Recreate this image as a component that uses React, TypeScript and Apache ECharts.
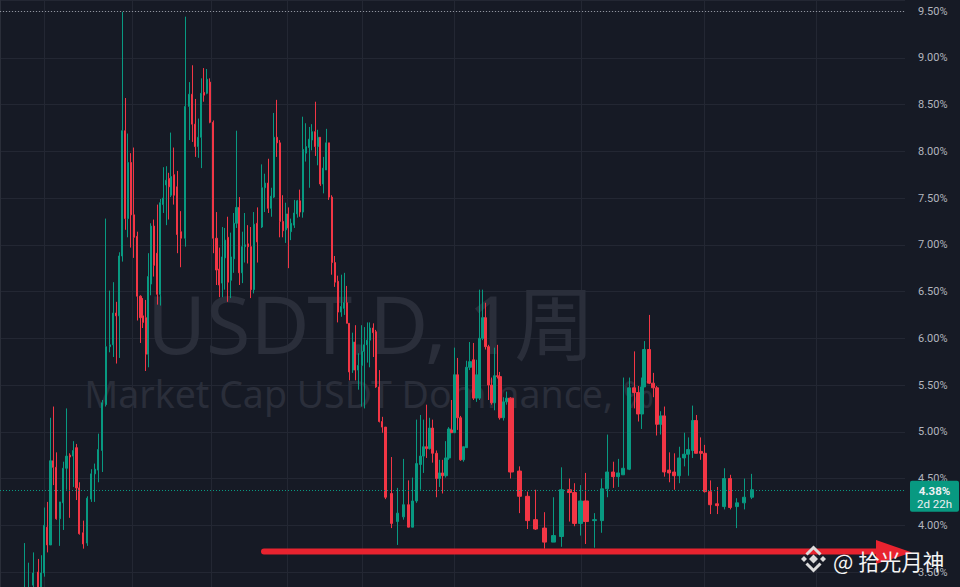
import React, { useEffect, useRef } from "react";
import * as echarts from "echarts";

// [week position, open, close, low, high] in % (USDT dominance, weekly)
const candles: number[][] = [
  [24.3, 3.26, 3.33, 3.15, 3.81],
  [28.3, 3.26, 3.32, 3.22, 3.6],
  [33.3, 3.36, 3.49, 3.31, 3.71],
  [38.3, 3.5, 3.31, 3.29, 3.64],
  [41.3, 3.34, 3.49, 3.32, 3.68],
  [44.3, 3.49, 4.0, 3.45, 4.19],
  [47.3, 3.98, 3.79, 3.71, 4.25],
  [50.5, 3.79, 4.69, 3.79, 5.15],
  [53.3, 4.69, 4.62, 4.43, 5.27],
  [56.3, 4.62, 4.07, 4.06, 4.78],
  [60, 4.07, 4.25, 3.78, 4.25],
  [63.3, 4.24, 4.61, 3.95, 4.68],
  [66.5, 4.61, 4.74, 4.38, 5.25],
  [70.2, 4.75, 4.73, 4.08, 4.77],
  [73.3, 4.74, 4.8, 4.41, 4.9],
  [76.5, 4.83, 4.4, 4.27, 4.87],
  [79.3, 4.4, 3.91, 3.9, 4.46],
  [83.3, 3.92, 3.8, 3.75, 4.05],
  [87.3, 3.81, 4.29, 3.78, 4.31],
  [91.3, 4.28, 4.55, 4.25, 4.6],
  [94.7, 4.55, 4.6, 4.25, 4.66],
  [98.3, 4.59, 4.81, 4.46, 4.98],
  [102.3, 4.8, 5.31, 4.57, 5.34],
  [106, 5.29, 5.91, 5.27, 7.28],
  [110, 5.91, 5.93, 5.85, 6.51],
  [113.3, 5.93, 6.27, 5.8, 6.6],
  [116.3, 6.27, 6.24, 5.73, 6.39],
  [119.3, 6.24, 6.88, 5.79, 6.92],
  [122.3, 6.88, 8.22, 6.82, 9.49],
  [125.3, 8.22, 7.28, 7.16, 8.57],
  [128, 7.28, 7.88, 7.08, 8.19],
  [130.7, 7.88, 7.32, 6.97, 7.98],
  [134, 7.32, 7.08, 6.86, 8.04],
  [137.3, 7.09, 6.45, 6.19, 7.14],
  [140.5, 6.45, 6.22, 5.95, 6.46],
  [143, 6.24, 6.17, 6.11, 6.43],
  [145.7, 6.22, 5.83, 5.65, 6.41],
  [148.3, 5.83, 6.66, 5.69, 6.91],
  [150.7, 6.58, 7.2, 6.46, 7.23],
  [154, 7.2, 6.78, 6.66, 7.27],
  [157.3, 6.91, 6.47, 6.36, 7.43],
  [160.3, 6.47, 7.45, 6.35, 7.49],
  [163.3, 7.43, 7.5, 7.34, 7.83],
  [166.3, 7.64, 7.69, 7.21, 7.84],
  [168.7, 7.71, 7.62, 7.27, 7.77],
  [171, 7.53, 7.73, 7.51, 8.2],
  [174, 7.75, 7.53, 7.43, 8.04],
  [177.3, 7.62, 7.11, 6.91, 7.79],
  [181, 7.14, 7.07, 6.76, 7.36],
  [185.3, 7.07, 8.48, 6.98, 9.44],
  [189.3, 8.48, 8.61, 8.12, 8.74],
  [192.3, 8.61, 8.29, 8.1, 8.92],
  [195.3, 8.29, 8.05, 7.94, 8.56],
  [198.3, 8.05, 8.15, 7.93, 8.35],
  [201.3, 8.15, 8.62, 7.82, 8.78],
  [204.2, 8.63, 8.6, 8.53, 8.89],
  [207.2, 8.62, 8.77, 8.61, 8.88],
  [210.2, 8.74, 8.31, 8.3, 8.78],
  [213.3, 8.31, 7.07, 6.91, 8.33],
  [216.5, 7.07, 6.73, 6.57, 7.35],
  [219.3, 6.74, 6.57, 6.44, 6.97],
  [222.3, 6.59, 6.87, 6.44, 7.19],
  [225.2, 6.86, 7.05, 6.52, 7.18],
  [228, 7.08, 6.6, 6.39, 7.3],
  [231, 6.62, 6.87, 6.43, 7.13],
  [233.8, 6.85, 7.23, 6.7, 7.34],
  [236.5, 7.23, 7.4, 7.18, 8.22],
  [239.3, 7.4, 6.7, 6.57, 7.51],
  [242.3, 6.7, 6.98, 6.59, 7.14],
  [245, 6.98, 7.0, 6.81, 7.34],
  [248, 7.01, 6.98, 6.8, 7.21],
  [251, 6.98, 6.52, 6.43, 7.19],
  [254, 6.52, 7.22, 6.48, 7.35],
  [257.3, 7.23, 7.03, 6.81, 7.4],
  [261.7, 7.19, 7.61, 7.18, 7.86],
  [265, 7.61, 7.66, 7.35, 7.76],
  [268.3, 7.66, 7.39, 7.34, 7.92],
  [271.3, 7.39, 7.52, 7.3, 7.61],
  [274, 7.51, 8.15, 7.5, 8.41],
  [277, 8.15, 8.09, 7.94, 8.55],
  [280, 8.09, 7.25, 7.08, 8.12],
  [283, 7.25, 7.15, 7.08, 7.53],
  [286, 7.16, 7.33, 7.02, 7.45],
  [288.3, 7.33, 7.18, 6.75, 7.4],
  [291, 7.14, 7.23, 7.05, 7.28],
  [294.3, 7.21, 7.34, 7.18, 7.48],
  [297.3, 7.33, 7.47, 7.29, 7.48],
  [300, 7.47, 7.35, 7.3, 7.59],
  [303, 7.35, 8.02, 7.29, 8.37],
  [306, 7.98, 8.05, 7.89, 8.3],
  [309.3, 8.04, 8.13, 7.61, 8.26],
  [312, 8.12, 8.21, 8.01, 8.29],
  [315.3, 8.21, 8.05, 7.95, 8.53],
  [317.7, 8.05, 8.15, 7.85, 8.23],
  [320.3, 8.15, 7.65, 7.63, 8.15],
  [323.3, 7.65, 7.82, 7.55, 7.94],
  [326.3, 7.8, 8.09, 7.8, 8.24],
  [329, 8.09, 7.51, 7.48, 8.09],
  [332, 7.51, 6.81, 6.68, 7.53],
  [335.2, 6.81, 6.6, 6.55, 6.88],
  [338.2, 6.61, 6.28, 6.17, 6.67],
  [341.3, 6.28, 6.34, 6.23, 6.68],
  [344.3, 6.32, 6.38, 6.25, 6.7],
  [346.8, 6.38, 6.16, 6.16, 6.56],
  [349.3, 6.16, 5.64, 5.55, 6.16],
  [352.7, 5.66, 5.96, 5.63, 6.06],
  [355.3, 5.96, 5.66, 5.55, 6.14],
  [358.3, 5.66, 5.71, 5.45, 5.84],
  [361.7, 5.71, 5.86, 5.27, 6.14],
  [364.3, 5.86, 5.93, 5.25, 6.12],
  [367.3, 5.93, 5.98, 5.74, 6.17],
  [370, 5.98, 6.11, 5.69, 6.17],
  [373.3, 6.11, 6.06, 5.8, 6.16],
  [376, 6.07, 5.48, 5.47, 6.09],
  [379.3, 5.48, 5.11, 5.1, 5.66],
  [382.3, 5.11, 5.05, 4.99, 5.16],
  [385.7, 5.05, 4.3, 4.28, 5.05],
  [391.3, 4.34, 4.02, 3.97, 4.73],
  [397.3, 4.04, 4.13, 3.79, 4.4],
  [403.3, 4.09, 4.22, 4.06, 4.71],
  [408.3, 4.22, 3.98, 3.98, 4.48],
  [412.3, 3.98, 4.26, 3.98, 4.51],
  [416.3, 4.26, 4.66, 4.24, 5.13],
  [420.3, 4.65, 4.74, 4.38, 5.18],
  [423.3, 4.74, 4.84, 4.56, 5.13],
  [426.7, 4.84, 4.82, 4.72, 5.29],
  [429.3, 4.82, 5.04, 4.81, 5.15],
  [432.3, 5.04, 4.77, 4.67, 5.13],
  [436.7, 4.77, 4.5, 4.3, 4.8],
  [439.3, 4.5, 4.56, 4.41, 4.7],
  [442.7, 4.56, 4.53, 4.34, 4.7],
  [446, 4.53, 4.72, 4.51, 4.9],
  [449, 4.72, 5.03, 4.7, 5.05],
  [451.7, 5.02, 4.99, 4.99, 5.34],
  [454.3, 4.99, 5.61, 4.99, 5.9],
  [457.3, 5.61, 5.15, 5.02, 5.79],
  [460.3, 5.15, 4.7, 4.69, 5.17],
  [463.3, 4.7, 4.84, 4.68, 4.84],
  [466.3, 4.83, 5.69, 4.83, 5.76],
  [470, 5.69, 5.75, 5.66, 5.96],
  [473.3, 5.77, 5.36, 5.34, 5.95],
  [476.3, 5.36, 5.61, 5.32, 5.77],
  [479.3, 5.36, 6.0, 5.34, 6.52],
  [483, 6.0, 6.22, 5.98, 6.52],
  [485.3, 6.22, 5.91, 5.88, 6.38],
  [488.7, 5.91, 5.5, 5.34, 5.93],
  [491.7, 5.5, 5.31, 5.29, 5.58],
  [494.3, 5.31, 5.6, 5.23, 5.9],
  [497.3, 5.6, 5.59, 5.57, 5.93],
  [500, 5.59, 5.15, 5.13, 5.64],
  [503.3, 5.15, 5.32, 5.12, 5.37],
  [506.3, 5.32, 5.36, 5.29, 5.43],
  [511, 5.36, 4.57, 4.5, 5.37],
  [519.3, 4.58, 4.31, 4.13, 4.63],
  [527.7, 4.31, 4.05, 3.96, 4.36],
  [535.3, 4.06, 3.96, 3.95, 4.38],
  [544.3, 3.97, 3.82, 3.75, 4.14],
  [553.3, 3.82, 3.89, 3.82, 4.3],
  [561.7, 3.88, 4.38, 3.77, 4.62],
  [569.3, 4.38, 4.35, 4.04, 4.5],
  [574.3, 4.35, 4.02, 3.99, 4.45],
  [580.7, 4.02, 4.26, 3.89, 4.43],
  [586, 4.26, 4.04, 3.8, 4.56],
  [594.3, 4.05, 4.06, 3.76, 4.13],
  [601.7, 4.05, 4.39, 3.92, 4.5],
  [607.3, 4.39, 4.57, 4.3, 4.97],
  [613.3, 4.57, 4.52, 4.4, 4.68],
  [618.3, 4.52, 4.56, 4.41, 4.71],
  [623.3, 4.54, 4.61, 4.54, 5.58],
  [629.3, 4.6, 5.47, 4.59, 5.58],
  [634.3, 5.47, 5.42, 5.25, 5.86],
  [638.3, 5.42, 5.19, 5.11, 5.49],
  [641.7, 5.19, 5.48, 5.03, 5.58],
  [644.3, 5.48, 5.88, 5.48, 5.97],
  [649.3, 5.88, 5.52, 5.51, 6.25],
  [653.3, 5.52, 5.47, 5.37, 5.63],
  [656.7, 5.47, 5.08, 4.96, 5.49],
  [660.7, 5.08, 5.17, 4.97, 5.22],
  [664.3, 5.17, 4.57, 4.52, 5.27],
  [669.3, 4.59, 4.56, 4.46, 4.78],
  [674.3, 4.57, 4.53, 4.38, 4.77],
  [679.3, 4.53, 4.72, 4.45, 4.84],
  [684.3, 4.72, 4.76, 4.63, 4.99],
  [688.3, 4.76, 4.81, 4.53, 4.94],
  [692.7, 4.8, 5.12, 4.72, 5.28],
  [696.3, 5.12, 4.77, 4.77, 5.18],
  [700.7, 4.79, 4.77, 4.7, 4.94],
  [705, 4.77, 4.36, 4.35, 4.86],
  [710.3, 4.36, 4.22, 4.12, 4.48],
  [717.3, 4.23, 4.21, 4.12, 4.41],
  [724.3, 4.2, 4.5, 4.17, 4.61],
  [730.3, 4.5, 4.19, 4.17, 4.54],
  [737, 4.2, 4.24, 3.97, 4.29],
  [744.3, 4.24, 4.3, 4.17, 4.5],
  [751.7, 4.3, 4.38, 4.28, 4.55],
];

// segments of the time scale and their candle body widths
const segmentEnds = [384, 510, 600, 2000];
const segmentBodyWidths = [1.8, 2.8, 5, 3.8];

const timeGridLines = [44, 132, 211, 287, 362, 454, 581, 704, 816];
const timeRange = [0, 905];
const priceRange = [3.34, 9.618];
const priceStep = 0.5;
const topLevel = 9.5;

const watermarkTitle = "USDT.D, 1周";
const watermarkSubtitle = "Market Cap USDT Dominance, %";
const countdown = "2d 22h";
const author = "@ 拾光月神";

const BG = "#161a25";
const GRID = "#232733";
const UP = "#089981";
const DOWN = "#f23645";
const ARROW = "#e8232f";
const WM = "#2a2e3a";

export default function App() {
  const ref = useRef<HTMLDivElement>(null);

  useEffect(() => {
    document.body.style.margin = "0";
    document.body.style.background = BG;
    const chart = echarts.init(ref.current!, undefined, { renderer: "svg" });
    const lastClose = candles[candles.length - 1][2];

    const series: any[] = segmentEnds.map((end, i) => {
      const start = i === 0 ? -Infinity : segmentEnds[i - 1];
      return {
        type: "candlestick",
        barWidth: segmentBodyWidths[i],
        data: candles.filter((c) => c[0] >= start && c[0] < end),
        itemStyle: {
          color: UP,
          color0: DOWN,
          borderColor: UP,
          borderColor0: DOWN,
          borderWidth: 1,
        },
        z: 3,
      };
    });
    series.push({
      type: "line",
      data: [],
      markLine: {
        silent: true,
        symbol: ["none", "none"],
        label: { show: false },
        animation: false,
        data: [
          { yAxis: topLevel, lineStyle: { color: "#8f939d", type: [1, 2], width: 1 } },
          { yAxis: lastClose, lineStyle: { color: UP, type: [1, 2], width: 1 } },
        ],
      },
    });

    chart.setOption({
      animation: false,
      backgroundColor: BG,
      grid: { left: 0, right: 55, top: 0, bottom: 0, outerBoundsMode: "none" },
      xAxis: {
        type: "value",
        min: timeRange[0],
        max: timeRange[1],
        axisLine: { show: false },
        axisLabel: { show: false },
        axisTick: { show: false, customValues: timeGridLines },
        splitLine: { show: true, lineStyle: { color: GRID, width: 1 } },
      },
      yAxis: {
        type: "value",
        position: "right",
        min: priceRange[0],
        max: priceRange[1],
        minInterval: priceStep,
        maxInterval: priceStep,
        axisLine: { show: true, lineStyle: { color: "#2a2e39" } },
        axisTick: { show: false },
        axisLabel: {
          color: "#b2b5be",
          fontSize: 11,
          fontFamily: "Roboto",
          margin: 13,
          showMinLabel: false,
          showMaxLabel: false,
          formatter: (v: number) => v.toFixed(2) + "%",
        },
        splitLine: { show: true, lineStyle: { color: GRID, width: 1 } },
      },
      series,
    });

    const yLast = chart.convertToPixel({ yAxisIndex: 0 }, lastClose) as number;
    const cx = 813.5;
    const cy = 559;
    const logoColor = "#dcdcdc";
    chart.setOption({
      graphic: {
        elements: [
          {
            type: "text",
            z: 1,
            x: 371,
            y: 322,
            silent: true,
            style: {
              text: watermarkTitle,
              fill: WM,
              fontSize: 81,
              fontFamily: '"Noto Sans", "Noto Sans CJK SC"',
              textAlign: "center",
              textVerticalAlign: "middle",
            },
          },
          {
            type: "text",
            z: 1,
            x: 369,
            y: 393,
            silent: true,
            style: {
              text: watermarkSubtitle,
              fill: WM,
              fontSize: 37.5,
              fontFamily: '"Noto Sans", "Noto Sans CJK SC"',
              textAlign: "center",
              textVerticalAlign: "middle",
            },
          },
          {
            type: "line",
            z: 50,
            silent: true,
            shape: { x1: 264, y1: 551.5, x2: 880, y2: 551.5 },
            style: { stroke: ARROW, lineWidth: 6, lineCap: "round" },
          },
          {
            type: "polygon",
            z: 50,
            silent: true,
            shape: { points: [[876, 540], [912, 552.5], [876, 564]] },
            style: { fill: ARROW },
          },
          {
            type: "polygon",
            z: 52,
            silent: true,
            shape: { points: [[cx - 4.5, cy], [cx, cy - 4.5], [cx + 4.5, cy], [cx, cy + 4.5]] },
            style: { fill: logoColor },
          },
          {
            type: "polygon",
            z: 52,
            silent: true,
            shape: { points: [[cx - 12.5, cy], [cx - 9.5, cy - 3], [cx - 6.5, cy], [cx - 9.5, cy + 3]] },
            style: { fill: logoColor },
          },
          {
            type: "polygon",
            z: 52,
            silent: true,
            shape: { points: [[cx + 6.5, cy], [cx + 9.5, cy - 3], [cx + 12.5, cy], [cx + 9.5, cy + 3]] },
            style: { fill: logoColor },
          },
          {
            type: "polyline",
            z: 52,
            silent: true,
            shape: { points: [[cx - 7, cy - 4.5], [cx, cy - 11.5], [cx + 7, cy - 4.5]] },
            style: { stroke: logoColor, lineWidth: 3, fill: "none" },
          },
          {
            type: "polyline",
            z: 52,
            silent: true,
            shape: { points: [[cx - 7, cy + 4.5], [cx, cy + 11.5], [cx + 7, cy + 4.5]] },
            style: { stroke: logoColor, lineWidth: 3, fill: "none" },
          },
          {
            type: "text",
            z: 52,
            x: 833,
            y: 560,
            silent: true,
            style: {
              text: author,
              fill: "#f4f4f4",
              fontSize: 21.5,
              fontFamily: '"Noto Sans CJK SC"',
              textAlign: "left",
              textVerticalAlign: "middle",
            },
          },
          {
            type: "rect",
            z: 60,
            silent: true,
            shape: { x: 910, y: yLast - 9, width: 49, height: 31, r: 2 },
            style: { fill: UP },
          },
          {
            type: "text",
            z: 61,
            x: 934.5,
            y: yLast + 1,
            silent: true,
            style: {
              text: lastClose.toFixed(2) + "%",
              fill: "#eef0f4",
              fontSize: 11.5,
              fontWeight: "bold",
              fontFamily: "Roboto",
              textAlign: "center",
              textVerticalAlign: "middle",
            },
          },
          {
            type: "text",
            z: 61,
            x: 934.5,
            y: yLast + 14,
            silent: true,
            style: {
              text: countdown,
              fill: "#eef0f4",
              fontSize: 11.5,
              fontFamily: "Roboto",
              textAlign: "center",
              textVerticalAlign: "middle",
            },
          },
        ],
      },
    });

    return () => chart.dispose();
  }, []);

  return <div ref={ref} style={{ width: 960, height: 587 }} />;
}
